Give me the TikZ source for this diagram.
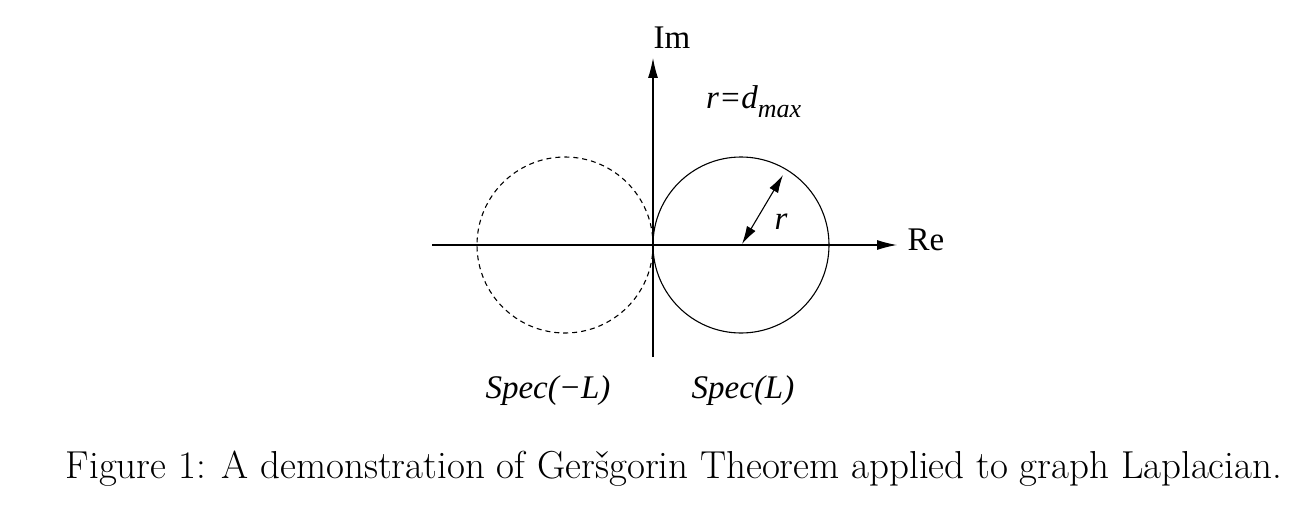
\documentclass[tikz,border=0pt]{standalone}
\usepackage{fontspec}
\newfontfamily\tms{Liberation Serif}
\usetikzlibrary{arrows.meta}
\begin{document}
\begin{tikzpicture}[x=1pt,y=-1pt,
  ax/.style={line width=1.1pt,-{Latex[length=20pt,width=10pt]}},
  lbl/.style={font=\tms\fontsize{33}{36}\selectfont,inner sep=0pt},
  ilbl/.style={font=\tms\itshape\fontsize{33}{36}\selectfont,inner sep=0pt}]
\useasboundingbox (0,0) rectangle (1314,516);
\coordinate (O) at (653,245);
\coordinate (C) at (741,245);
\coordinate (CL) at (565,245);
\coordinate (xs) at (432,245);
\coordinate (xe) at (897,245);
\coordinate (ys) at (653,357);
\coordinate (ye) at (653,58);
\draw[ax] (xs) -- (xe);
\draw[ax] (ys) -- (ye);
\draw[line width=1.1pt] (C) circle[radius=88];
\draw[line width=1.1pt,dash pattern=on 5pt off 4pt] (CL) circle[radius=88];
\coordinate (ra) at (742,244);
\coordinate (rb) at (783,175);
\draw[line width=1.1pt,{Latex[length=18pt,width=10pt]}-{Latex[length=18pt,width=10pt]}] (ra) -- (rb);
\node[lbl] (im) at (672,38) {Im};
\node[lbl] (re) at (926,240) {Re};
\node[ilbl,anchor=base west] (rd) at (706,109) {r=d\raisebox{-9pt}{\fontsize{26}{28}\selectfont max}};
\node[ilbl] (r) at (781,222) {r};
\node[ilbl] (sl) at (548,391) {Spec(\textminus L)};
\node[ilbl] (sr) at (743,391) {Spec(L)};
\node[inner sep=0pt,font=\fontsize{39}{41}\selectfont] (cap) at (674,469) {Figure 1: A demonstration of Ger\v{s}gorin Theorem applied to graph Laplacian.};
\end{tikzpicture}
\end{document}
